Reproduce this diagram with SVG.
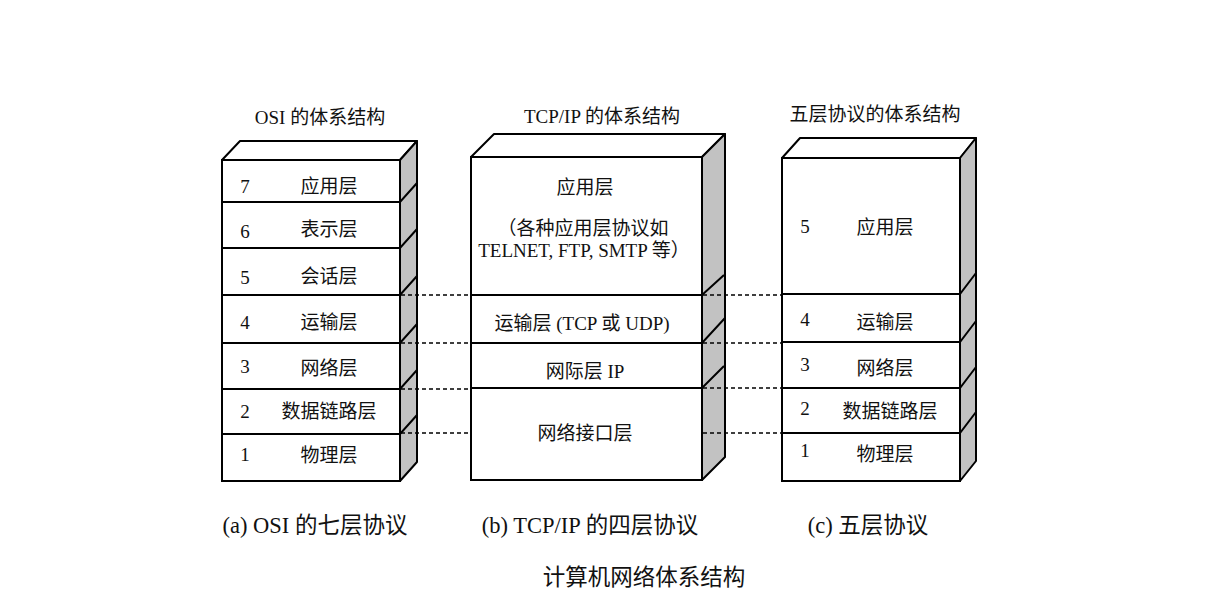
<svg xmlns="http://www.w3.org/2000/svg" width="1217" height="599" viewBox="0 0 1217 599">
<defs>
<style>
.front{fill:#fff;stroke:#000;stroke-width:2}
.top{fill:#fff;stroke:#000;stroke-width:2;stroke-linejoin:round}
.side{fill:#c2c2c2;stroke:#000;stroke-width:2;stroke-linejoin:round}
.div{stroke:#000;stroke-width:2;fill:none}
.dash{stroke:#000;stroke-width:1.3;stroke-dasharray:4 3;fill:none}
text{font-family:"Liberation Serif","Noto Sans CJK SC",serif;fill:#111}
.lbl{font-size:19px;text-anchor:middle}
.num{font-size:19px;text-anchor:middle}
.ttl{font-size:19px;text-anchor:middle}
.cap{font-size:22.5px;text-anchor:middle}
</style>
</defs>
<rect width="1217" height="599" fill="#fff"/>

<g id="osi">
<polygon class="top" points="222,160 240,141 417,141 400,160"/>
<polygon class="side" points="400,160 417,141 417,462 400,481"/>
<rect class="front" x="222" y="160" width="178" height="321"/>
<path class="div" d="M222,202H400l17,-19 M222,248H400l17,-19 M222,295H400l17,-19 M222,343H400l17,-19 M222,389H400l17,-19 M222,434H400l17,-19"/>
<text class="ttl" x="320" y="124">OSI 的体系结构</text>
<text class="num" x="245" y="193">7</text><text class="lbl" x="329" y="193">应用层</text>
<text class="num" x="245" y="238">6</text><text class="lbl" x="329" y="236">表示层</text>
<text class="num" x="245" y="284">5</text><text class="lbl" x="329" y="283">会话层</text>
<text class="num" x="245" y="329">4</text><text class="lbl" x="329" y="329">运输层</text>
<text class="num" x="245" y="373">3</text><text class="lbl" x="329" y="375">网络层</text>
<text class="num" x="245" y="418">2</text><text class="lbl" x="329" y="418">数据链路层</text>
<text class="num" x="245" y="461">1</text><text class="lbl" x="329" y="462">物理层</text>
<text class="cap" x="315" y="533">(a) OSI 的七层协议</text>
</g>

<g id="tcpip">
<polygon class="top" points="471,157 494,134 725,134 702,157"/>
<polygon class="side" points="702,157 725,134 725,457 702,480"/>
<rect class="front" x="471" y="157" width="231" height="323"/>
<path class="div" d="M471,295H702l22,-20 M471,343H702l23,-25 M471,388H702l22,-22"/>
<text class="ttl" x="602" y="123">TCP/IP 的体系结构</text>
<text class="lbl" x="585" y="194">应用层</text>
<text class="lbl" x="583" y="235">（各种应用层协议如</text>
<text class="lbl" x="584" y="257">TELNET, FTP, SMTP 等）</text>
<text class="lbl" x="582" y="330">运输层 (TCP 或 UDP)</text>
<text class="lbl" x="585" y="378">网际层 IP</text>
<text class="lbl" x="585" y="440">网络接口层</text>
<text class="cap" x="590" y="533">(b) TCP/IP 的四层协议</text>
</g>

<g id="five">
<polygon class="top" points="782,158 800,138 976,138 960,158"/>
<polygon class="side" points="960,158 976,138 976,461 960,481"/>
<rect class="front" x="782" y="158" width="178" height="323"/>
<path class="div" d="M782,294H960l16,-21 M782,342H960l16,-21 M782,388H960l16,-21 M782,433H960l16,-21"/>
<text class="ttl" x="875" y="121">五层协议的体系结构</text>
<text class="num" x="805" y="233">5</text><text class="lbl" x="885" y="234">应用层</text>
<text class="num" x="805" y="326">4</text><text class="lbl" x="885" y="329">运输层</text>
<text class="num" x="805" y="371">3</text><text class="lbl" x="885" y="375">网络层</text>
<text class="num" x="805" y="415">2</text><text class="lbl" x="890" y="418">数据链路层</text>
<text class="num" x="805" y="457">1</text><text class="lbl" x="885" y="461">物理层</text>
<text class="cap" x="868" y="533">(c)  五层协议</text>
</g>

<g id="connectors">
<path class="dash" d="M401,295H470 M401,343H470 M401,389H470 M401,433H470"/>
<path class="dash" d="M703,295H781 M703,343H781 M703,388H781 M703,433H781"/>
</g>

<text class="cap" x="644" y="585">计算机网络体系结构</text>
</svg>
